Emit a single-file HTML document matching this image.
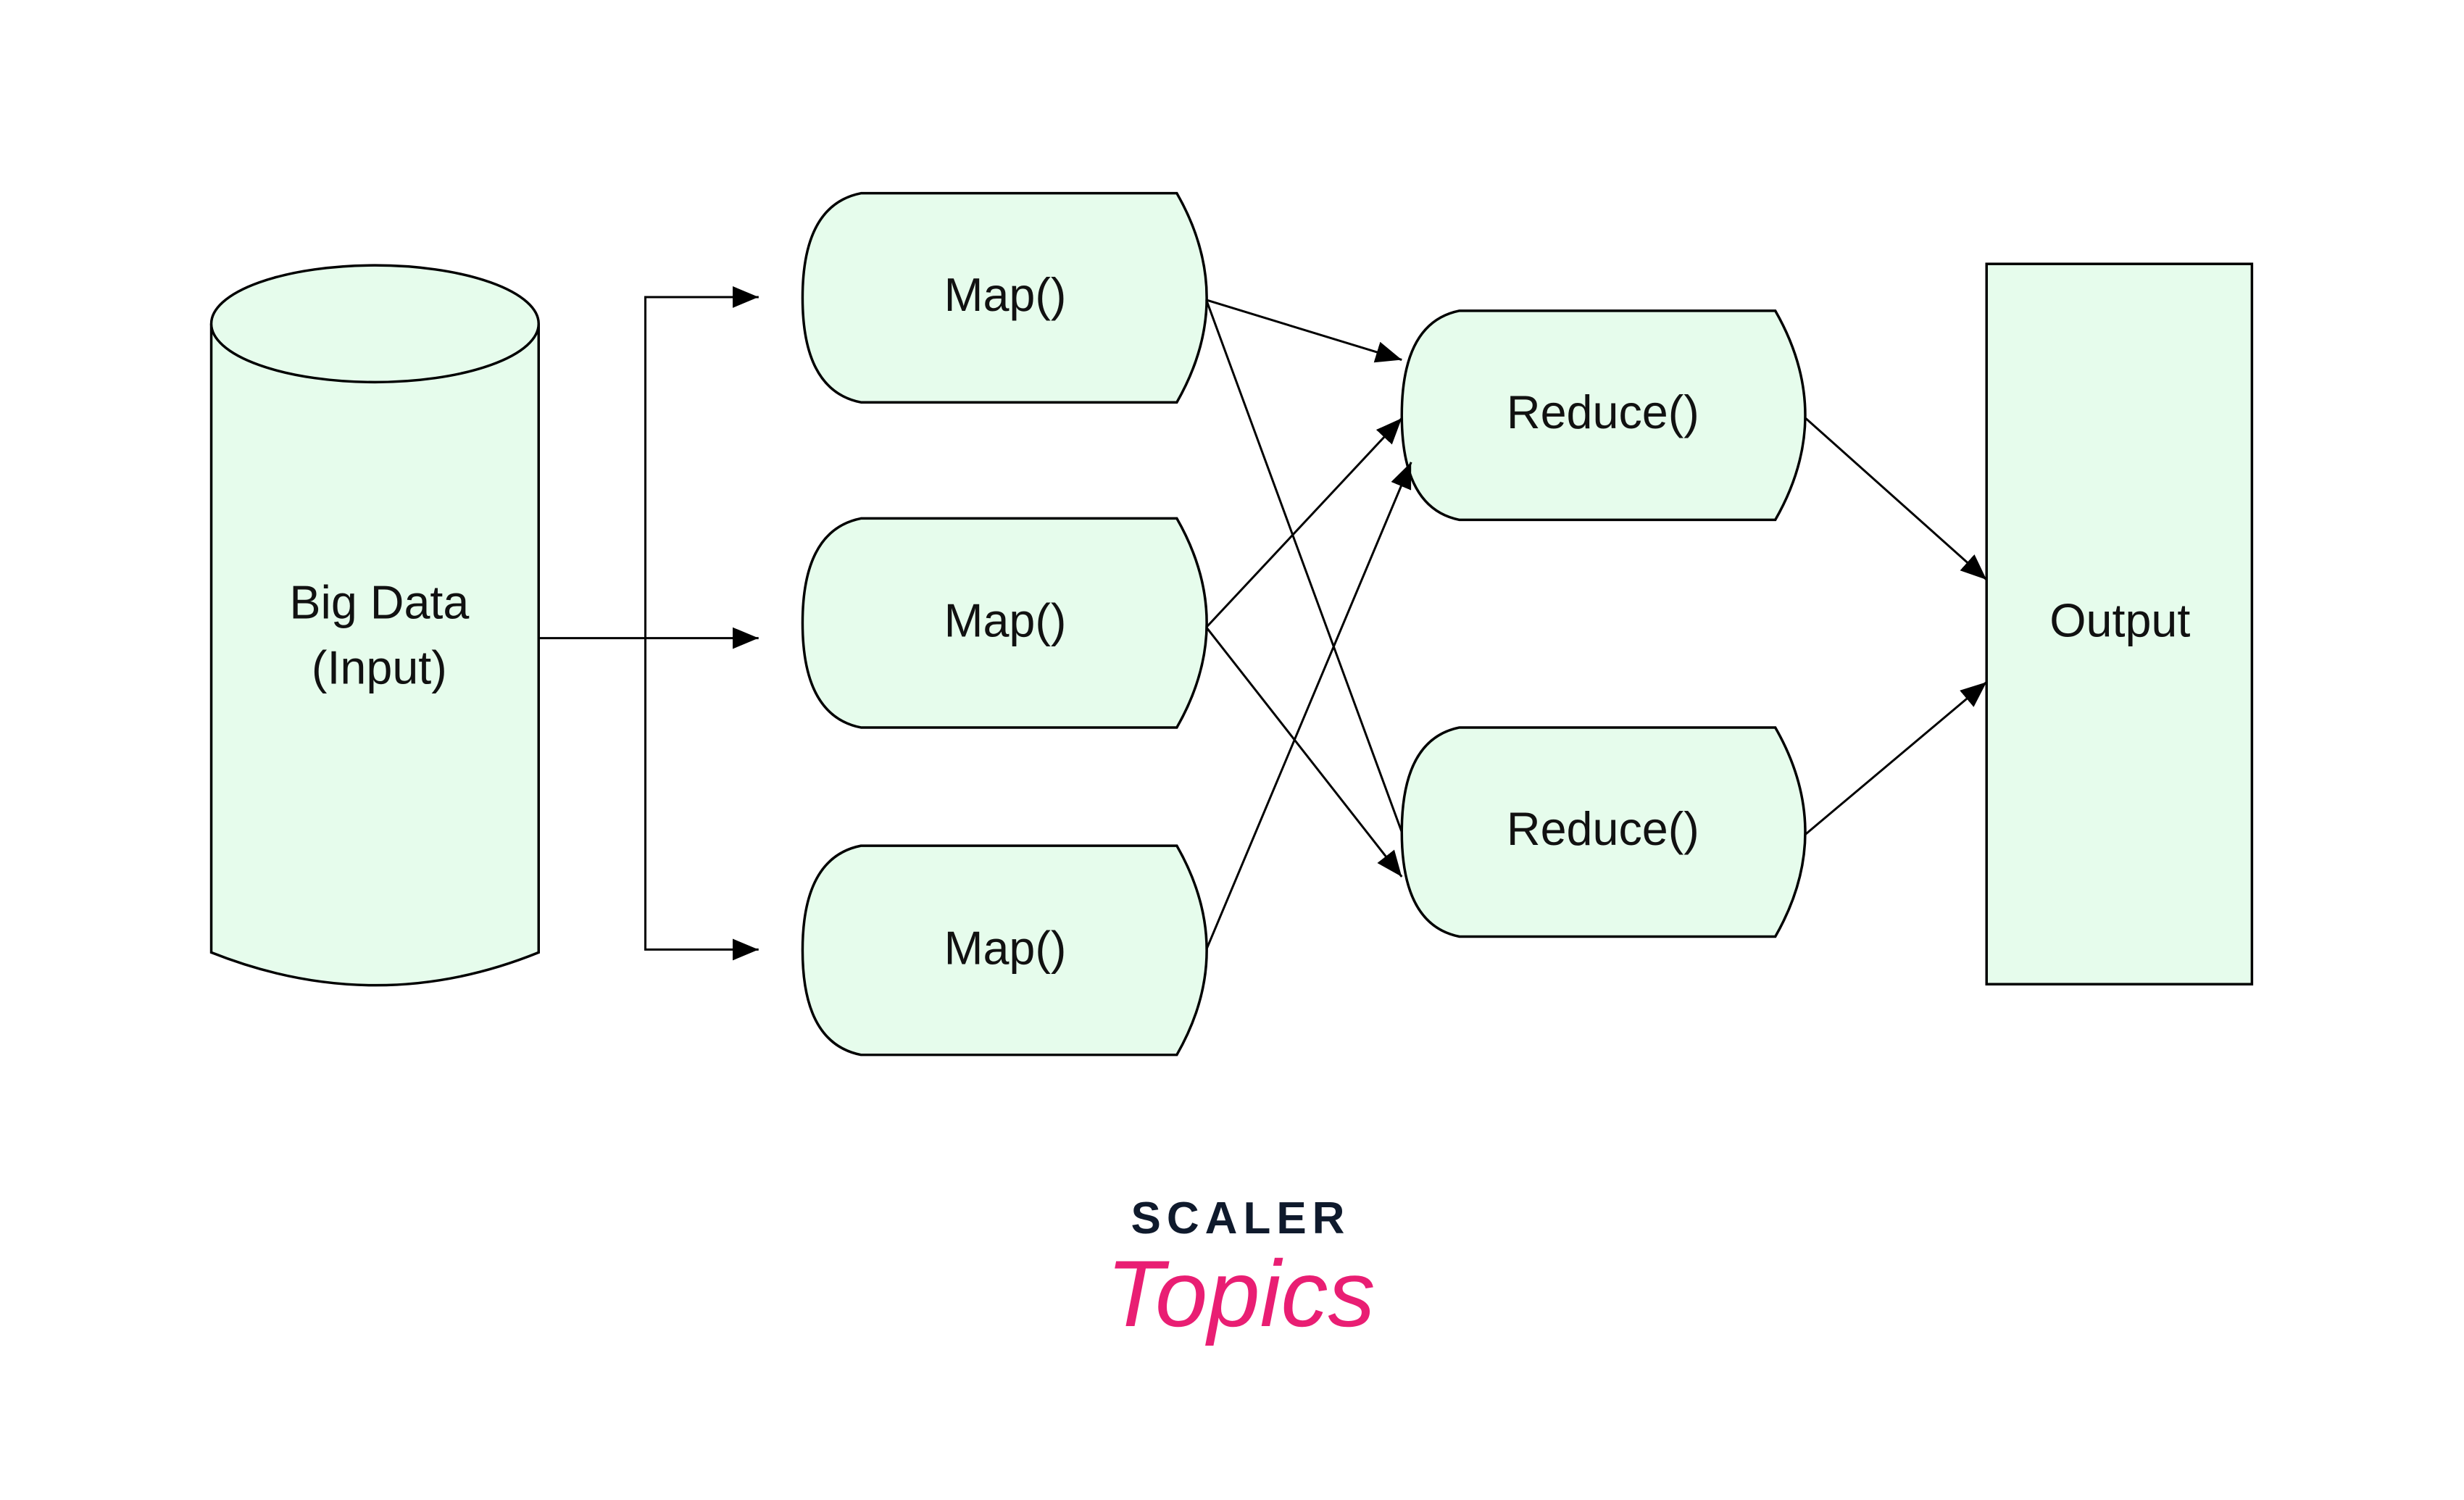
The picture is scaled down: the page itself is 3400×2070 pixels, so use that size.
<!DOCTYPE html>
<html><head><meta charset="utf-8"><style>
html,body{margin:0;padding:0;background:#fff;}
svg{display:block;}
text{font-family:"Liberation Sans",sans-serif;}
</style></head><body>
<svg width="3400" height="2070" viewBox="0 0 3400 2070" xmlns="http://www.w3.org/2000/svg">
<defs>
<marker id="ah" viewBox="0 0 36 30" refX="36" refY="15" markerWidth="36" markerHeight="30" orient="auto" markerUnits="userSpaceOnUse">
<path d="M0,0 L36,15 L0,30 Z" fill="#000"/>
</marker>
</defs>
<g transform="translate(-1,2) scale(0.995)">
<g fill="#e6fcec" stroke="#000" stroke-width="3.5">
<path d="M294,447 L294,1319 Q523,1410 748,1319 L748,447"/>
<ellipse cx="521" cy="447" rx="227" ry="81"/>
<path d="M1195,266 L1633,266 Q1716,411 1633,556 L1195,556 Q1114,540 1114,411 Q1114,282 1195,266 Z"/>
<path d="M1195,717 L1633,717 Q1716,862 1633,1007 L1195,1007 Q1114,991 1114,862 Q1114,733 1195,717 Z"/>
<path d="M1195,1171 L1633,1171 Q1716,1316 1633,1461 L1195,1461 Q1114,1445 1114,1316 Q1114,1187 1195,1171 Z"/>
<path d="M2025,429 L2463,429 Q2546,574 2463,719 L2025,719 Q1945,703 1945,574 Q1945,445 2025,429 Z"/>
<path d="M2025,1007 L2463,1007 Q2546,1152 2463,1297 L2025,1297 Q1945,1281 1945,1152 Q1945,1023 2025,1007 Z"/>
<rect x="2756" y="364" width="368" height="999"/>
</g>
<g fill="none" stroke="#000" stroke-width="3">
<line x1="748" y1="883" x2="1053" y2="883" marker-end="url(#ah)"/>
<polyline points="1053,410 896,410 896,1315 1053,1315" marker-end="url(#ah)"/>
<line x1="896" y1="410" x2="1053" y2="410" marker-end="url(#ah)"/>
<line x1="1674" y1="414" x2="1945" y2="497" marker-end="url(#ah)"/>
<line x1="1674" y1="414" x2="1945" y2="1152"/>
<line x1="1674" y1="868" x2="1945" y2="578" marker-end="url(#ah)"/>
<line x1="1674" y1="868" x2="1945" y2="1214" marker-end="url(#ah)"/>
<line x1="1674" y1="1315" x2="1958" y2="639" marker-end="url(#ah)"/>
<line x1="2505" y1="578" x2="2756" y2="802" marker-end="url(#ah)"/>
<line x1="2505" y1="1155" x2="2756" y2="944" marker-end="url(#ah)"/>
</g>
<g font-size="65" fill="#111" text-anchor="middle">
<text x="527" y="856">Big Data</text>
<text x="527" y="946">(Input)</text>
<text x="1395" y="429">Map()</text>
<text x="1395" y="881">Map()</text>
<text x="1395" y="1335">Map()</text>
<text x="2224" y="592">Reduce()</text>
<text x="2224" y="1170">Reduce()</text>
<text x="2941" y="881">Output</text>
</g>
</g>
<text x="1712" y="1702" font-size="62" font-weight="bold" fill="#0f1a2c" text-anchor="middle" letter-spacing="8">SCALER</text>
<text x="1712" y="1830" font-size="130" font-style="italic" font-family="'Liberation Serif',serif" fill="#e91e73" text-anchor="middle">Topics</text>
</svg>
</body></html>
